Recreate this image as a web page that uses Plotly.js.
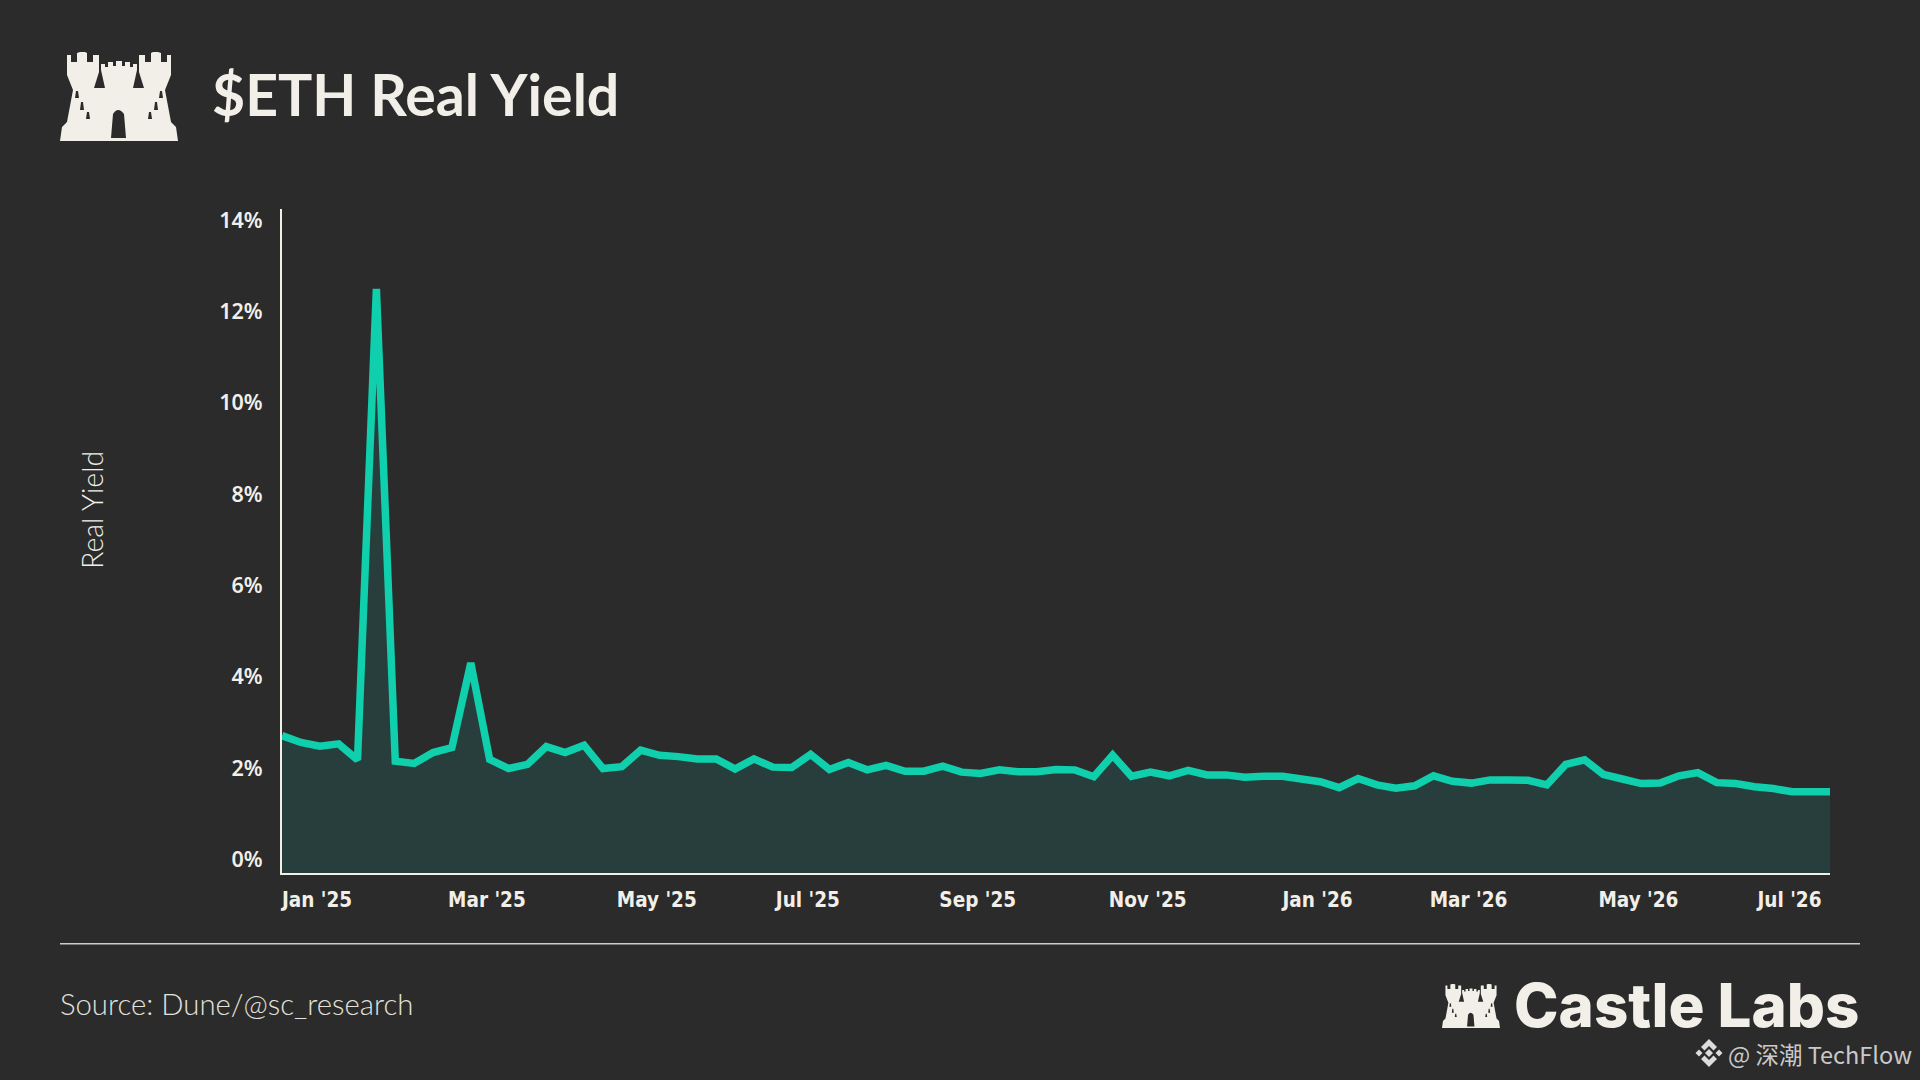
<!DOCTYPE html>
<html><head><meta charset="utf-8">
<script src="https://cdn.plot.ly/plotly-3.0.1.min.js"></script>
<style>html,body{margin:0;padding:0;background:#2b2b2b;overflow:hidden}#c{width:1920px;height:1080px}</style>
</head><body><div id="c"></div>
<script>
const weeks = ["2025-01-01","2025-01-08","2025-01-15","2025-01-22","2025-01-29","2025-02-05","2025-02-12","2025-02-19","2025-02-26",
"2025-03-05","2025-03-12","2025-03-19","2025-03-26","2025-04-02","2025-04-09","2025-04-16","2025-04-23","2025-04-30",
"2025-05-07","2025-05-14","2025-05-21","2025-05-28","2025-06-04","2025-06-11","2025-06-18","2025-06-25",
"2025-07-02","2025-07-09","2025-07-16","2025-07-23","2025-07-30","2025-08-06","2025-08-13","2025-08-20","2025-08-27",
"2025-09-03","2025-09-10","2025-09-17","2025-09-24","2025-10-01","2025-10-08","2025-10-15","2025-10-22","2025-10-29",
"2025-11-05","2025-11-12","2025-11-19","2025-11-26","2025-12-03","2025-12-10","2025-12-17","2025-12-24","2025-12-31",
"2026-01-07","2026-01-14","2026-01-21","2026-01-28","2026-02-04","2026-02-11","2026-02-18","2026-02-25",
"2026-03-04","2026-03-11","2026-03-18","2026-03-25","2026-04-01","2026-04-08","2026-04-15","2026-04-22","2026-04-29",
"2026-05-06","2026-05-13","2026-05-20","2026-05-27","2026-06-03","2026-06-10","2026-06-17","2026-06-24",
"2026-07-01","2026-07-08","2026-07-15","2026-07-22","2026-07-29"];
const realYield = [2.71,2.56,2.48,2.53,2.18,12.5,2.15,2.10,2.34,2.45,4.3,2.19,1.99,2.08,2.47,2.34,2.50,1.99,2.03,2.39,
2.28,2.25,2.20,2.20,1.98,2.20,2.02,2.01,2.30,1.97,2.12,1.96,2.06,1.93,1.93,2.04,1.91,1.88,1.96,1.92,
1.92,1.97,1.96,1.81,2.28,1.82,1.91,1.83,1.95,1.85,1.85,1.80,1.82,1.82,1.76,1.70,1.57,1.77,1.63,1.56,
1.61,1.83,1.71,1.67,1.74,1.74,1.73,1.63,2.08,2.18,1.86,1.76,1.66,1.67,1.83,1.90,1.68,1.66,1.59,1.55,
1.48,1.48,1.48];
const tickDates = ["2025-01-01","2025-03-05","2025-05-07","2025-07-02","2025-09-03","2025-11-05","2026-01-07","2026-03-04","2026-05-06","2026-07-01"];
const tickLabels = ["Jan '25","Mar '25","May '25","Jul '25","Sep '25","Nov '25","Jan '26","Mar '26","May '26","Jul '26"];
const yTicks = [0,2,4,6,8,10,12,14];
const yFloor = -0.30, yTop = 14.25;

const INK = "#f2efe9", BG = "#2b2b2b", NARROW = "'DejaVu Sans Condensed',sans-serif", NOTO="'Noto Sans',sans-serif", LATO="Lato,'Noto Sans',sans-serif";
const L=282,R=1830,T=209,B=873;
const px = x => (x-L)/(R-L), py = y => (B-y)/(B-T);

const castle = (w,h) => "data:image/svg+xml;utf8,"+encodeURIComponent(
`<svg xmlns="http://www.w3.org/2000/svg" viewBox="0 0 118 89" width="${w}" height="${h}" preserveAspectRatio="none">
<path fill="${INK}" d="M0,89 L2,75 L7,70 L13,38 L7,23 L7,3 L11,3 L11,10 L17,10 L17,1 L20,0 L25,0 L27,1 L27,10 L33,10 L33,3 L39,3 L39,20 L34,36 L45,36 L41,18 L41,12 L45,12 L45,15 L48,15 L48,10 L53,10 L53,14 L56,14 L56,9 L62,9 L62,14 L65,14 L65,10 L70,10 L70,15 L73,15 L73,12 L77,12 L77,18 L73,36 L84,36 L79,20 L79,3 L85,3 L85,10 L91,10 L91,1 L93,0 L98,0 L101,1 L101,10 L107,10 L107,3 L111,3 L111,23 L105,38 L111,70 L116,75 L118,89 Z"/>
<path fill="${BG}" d="M51,86 L53,62 Q58,54 64,62 L66,86 Z M16,39 L18,39 L19,46 L15,46 Z M21,50 L23,50 L24,58 L20,58 Z M27,60 L29,60 L30,67 L26,67 Z M100,39 L102,39 L103,46 L99,46 Z M95,50 L97,50 L98,58 L94,58 Z M89,60 L91,60 L92,67 L88,67 Z"/>
</svg>`);
const diamond = "data:image/svg+xml;utf8,"+encodeURIComponent(
`<svg xmlns="http://www.w3.org/2000/svg" viewBox="0 0 28 28" width="28" height="28"><g fill="#dcdcdc">
<path d="M14,0 L22,8 L18.5,11.5 L14,7 L9.5,11.5 L6,8 Z M14,28 L22,20 L18.5,16.5 L14,21 L9.5,16.5 L6,20 Z M4,10.5 L7.5,14 L4,17.5 L0.5,14 Z M24,10.5 L27.5,14 L24,17.5 L20.5,14 Z M14,10 L18,14 L14,18 L10,14 Z"/></g></svg>`);

const text = (t,x,y,font,extra) => Object.assign({text:t,xref:"paper",yref:"paper",x:px(x),y:py(y),xanchor:"left",yanchor:"middle",showarrow:false,font:font},extra||{});

const traces = [
 {x:weeks,y:weeks.map(()=>yFloor),type:"scatter",mode:"lines",line:{width:0,color:"rgba(0,0,0,0)"},hoverinfo:"skip",showlegend:false},
 {x:weeks,y:realYield,type:"scatter",mode:"lines",fill:"tonexty",fillcolor:"#283e3c",line:{color:"#0fcfad",width:7.5,shape:"linear",simplify:false},name:"Real Yield",showlegend:false}
];
const layout = {
 width:1920,height:1080,paper_bgcolor:BG,plot_bgcolor:BG,showlegend:false,
 margin:{l:L,r:1920-R,t:T,b:1080-B,pad:0},
 xaxis:{type:"date",range:[weeks[0],weeks[weeks.length-1]],tickmode:"array",tickvals:tickDates,ticktext:tickLabels,ticklabelshift:35,
  showgrid:false,zeroline:false,showline:true,linecolor:INK,linewidth:2,ticks:"",ticklabelstandoff:7,
  tickfont:{family:NARROW,size:20.5,color:INK,weight:700}},
 yaxis:{range:[yFloor,yTop],tickmode:"array",tickvals:yTicks,ticktext:yTicks.map(v=>v+"%"),showgrid:false,zeroline:false,showline:true,linecolor:INK,linewidth:2,ticks:"",
  ticklabelstandoff:13,tickfont:{family:NOTO,size:21.5,color:INK,weight:600}},
 shapes:[{type:"line",xref:"paper",yref:"paper",x0:px(60),x1:px(1860),y0:py(943.7),y1:py(943.7),line:{color:"#cfcdc8",width:1.5}}],
 images:[
  {source:castle(118,89),xref:"paper",yref:"paper",x:px(60),y:py(52),sizex:118/(R-L),sizey:89/(B-T),sizing:"stretch",xanchor:"left",yanchor:"top",layer:"above"},
  {source:castle(58,44),xref:"paper",yref:"paper",x:px(1442),y:py(984),sizex:58/(R-L),sizey:44/(B-T),sizing:"stretch",xanchor:"left",yanchor:"top",layer:"above"},
  {source:diamond,xref:"paper",yref:"paper",x:px(1695),y:py(1039),sizex:28/(R-L),sizey:28/(B-T),sizing:"stretch",xanchor:"left",yanchor:"top",layer:"above"}
 ],
 annotations:[
  text("$ETH Real Yield",210,94,{size:57.2,color:INK,family:LATO,weight:700}),
  text("Real Yield",92,510,{size:28.5,color:"#f2efe9",family:LATO,weight:300},{textangle:-90,xanchor:"center",yanchor:"middle"}),
  text("Source: Dune/@sc_research",58,1003,{size:29.3,color:"#e4e2dd",family:LATO,weight:300}),
  text("Castle Labs",1512,1005,{size:60,color:INK,family:"Inter,sans-serif",weight:800}),
  text("@ 深潮 TechFlow",1726,1054,{size:23.5,color:"#c9c9c9",family:"'Noto Sans CJK SC','Noto Sans',sans-serif"})
 ]
};
Plotly.newPlot("c",traces,layout,{displayModeBar:false,staticPlot:true});
</script></body></html>
